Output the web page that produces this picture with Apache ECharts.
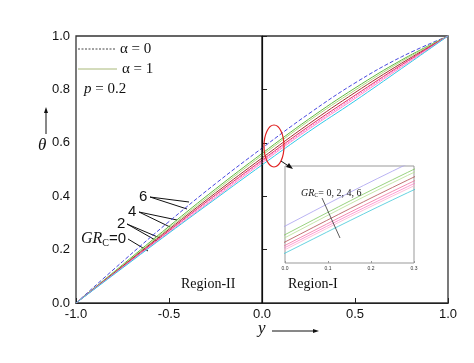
<!DOCTYPE html>
<html><head><meta charset="utf-8">
<script src="https://cdn.jsdelivr.net/npm/echarts@6/dist/echarts.min.js"></script>
<style>html,body{margin:0;padding:0;background:#fff}#c{width:474px;height:363px}</style>
</head><body><div id="c"></div>
<script>
const yPos = [-1, -0.75, -0.5, -0.25, 0, 0.25, 0.5, 0.75, 1];
const xTicks = ['-1.0','-0.5','0.0','0.5','1.0'];
const thetaBlueDash = [0, 0.155, 0.305, 0.447, 0.58, 0.708, 0.824, 0.922, 1];
const thetaGreen    = [0, 0.143, 0.287, 0.427, 0.560, 0.688, 0.805, 0.910, 1];
const thetaLtGreen  = [0, 0.140, 0.281, 0.420, 0.553, 0.681, 0.797, 0.905, 1];
const thetaBrown    = [0, 0.138, 0.276, 0.412, 0.543, 0.670, 0.788, 0.898, 1];
const thetaRed      = [0, 0.135, 0.271, 0.405, 0.535, 0.661, 0.778, 0.892, 1];
const thetaMagenta  = [0, 0.134, 0.268, 0.400, 0.530, 0.655, 0.772, 0.888, 1];
const thetaPink     = [0, 0.133, 0.265, 0.395, 0.525, 0.650, 0.766, 0.884, 1];
const thetaCyan     = [0, 0.131, 0.262, 0.390, 0.517, 0.641, 0.757, 0.878, 1];
const seriesDefs = [
  {d: thetaBlueDash, c: '#4848e0', t: 'dashed', ic: '#a8a0f0'},
  {d: thetaGreen, c: '#60b840', t: 'solid', ic: '#80c860'},
  {d: thetaLtGreen, c: '#b0d880', t: 'solid', ic: '#b8e090'},
  {d: thetaBrown, c: '#a03030', t: 'solid', ic: '#b05050'},
  {d: thetaRed, c: '#e83060', t: 'solid', ic: '#f070a0'},
  {d: thetaMagenta, c: '#ff30c0', t: 'dotted', ic: '#ff80c8'},
  {d: thetaPink, c: '#ff90c8', t: 'solid', ic: '#ffb0d0'},
  {d: thetaCyan, c: '#30c8e8', t: 'solid', ic: '#40c8d8'}
];
const chart = echarts.init(document.getElementById('c'));
const series = [];
seriesDefs.forEach(s => {
  const pts = yPos.map((x,i)=>[x, s.d[i]]);
  series.push({type:'line', xAxisIndex:0, yAxisIndex:0, data: pts, smooth:0.4, symbol:'none',
    lineStyle:{color:s.c, width:1, type:s.t}, z:3});
  series.push({type:'line', xAxisIndex:1, yAxisIndex:1, data: pts, smooth:0.4, symbol:'none',
    lineStyle:{color:s.ic, width:0.8}, clip:true, z:12});
});
series.push({type:'line', xAxisIndex:0, yAxisIndex:0, data:[[0,0],[0,1]], symbol:'none',
  lineStyle:{color:'#000', width:1.2}, z:4});
const sans = 'Liberation Sans, Arial, sans-serif';
const serif = 'Liberation Serif, Times New Roman, serif';
const option = {
  animation:false,
  grid:[
    {left:76, right:26, top:36, bottom:60, show:true, borderColor:'#333', borderWidth:1.3},
    {left:285, top:166, width:129, height:97, show:true, borderColor:'#999', borderWidth:1, backgroundColor:'#fff', z:10}
  ],
  xAxis:[
    {gridIndex:0, type:'value', min:-1, max:1, interval:0.5, position:'bottom',
     axisLine:{lineStyle:{color:'#222', width:1.2}}, axisTick:{inside:true, length:5, lineStyle:{color:'#222'}},
     axisLabel:{color:'#111', fontFamily:sans, fontSize:13, margin:5, formatter:(v)=>v.toFixed(1)}, splitLine:{show:false}},
    {gridIndex:1, type:'value', min:0, max:0.3, interval:0.1, z:11,
     axisLine:{show:false}, axisTick:{inside:true, length:2, lineStyle:{color:'#999'}},
     axisLabel:{fontSize:5, color:'#333', margin:3, formatter:(v)=>v.toFixed(1)}, splitLine:{show:false}}
  ],
  yAxis:[
    {gridIndex:0, type:'value', min:0, max:1, interval:0.2, position:'left',
     axisLine:{show:true, lineStyle:{color:'#222', width:1.2}}, axisTick:{show:true, inside:true, length:5, lineStyle:{color:'#222'}},
     axisLabel:{color:'#111', fontFamily:sans, fontSize:13, margin:6, formatter:(v)=>v.toFixed(1)}, splitLine:{show:false}},
    {gridIndex:1, type:'value', min:0.494, max:0.72, z:11,
     axisLine:{show:false}, axisTick:{show:false}, axisLabel:{show:false}, splitLine:{show:false}}
  ],
  series: series,
  graphic:[
    {type:'line', shape:{x1:78,y1:49,x2:116,y2:49}, style:{stroke:'#444', lineDash:[2,1.5], lineWidth:1}},
    {type:'text', x:120, y:49, style:{text:'α = 0', font:'15px '+serif, fill:'#111', verticalAlign:'middle'}},
    {type:'line', shape:{x1:78,y1:69,x2:117,y2:69}, style:{stroke:'#a8b878', lineWidth:1}},
    {type:'text', x:122, y:69, style:{text:'α = 1', font:'15px '+serif, fill:'#111', verticalAlign:'middle'}},
    {type:'text', x:84, y:89, style:{text:'{i|p} = 0.2', fill:'#111', verticalAlign:'middle', font:'15px '+serif,
      rich:{i:{fontFamily:serif, fontStyle:'italic', fontSize:15}}}},
    {type:'text', x:38, y:146, style:{text:'θ', font:'italic 17px '+serif, fill:'#111', verticalAlign:'middle'}},
    {type:'line', shape:{x1:46,y1:134,x2:46,y2:110}, style:{stroke:'#111', lineWidth:1}},
    {type:'polygon', shape:{points:[[46,107],[44,113],[48,113]]}, style:{fill:'#111'}},
    {type:'text', x:258, y:329, style:{text:'y', font:'italic 17px '+serif, fill:'#111', verticalAlign:'middle'}},
    {type:'line', shape:{x1:272,y1:331,x2:314,y2:331}, style:{stroke:'#111', lineWidth:1}},
    {type:'polygon', shape:{points:[[319,331],[313,329],[313,333]]}, style:{fill:'#111'}},
    {type:'text', x:181, y:284, style:{text:'Region-II', font:'14px '+serif, fill:'#111', verticalAlign:'middle'}},
    {type:'text', x:288, y:284, style:{text:'Region-I', font:'14px '+serif, fill:'#111', verticalAlign:'middle'}},
    {type:'text', x:139, y:197, style:{text:'6', font:'15px '+sans, fill:'#111', verticalAlign:'middle'}},
    {type:'text', x:128, y:212, style:{text:'4', font:'15px '+sans, fill:'#111', verticalAlign:'middle'}},
    {type:'text', x:117, y:224, style:{text:'2', font:'15px '+sans, fill:'#111', verticalAlign:'middle'}},
    {type:'text', x:81, y:239, style:{text:'{g|GR}{s|C}{n|=0}', verticalAlign:'middle',
      rich:{g:{fontFamily:serif, fontStyle:'italic', fontSize:16, fill:'#111'},
            s:{fontFamily:serif, fontSize:10, verticalAlign:'bottom', padding:[8,0,0,0], fill:'#111'},
            n:{fontFamily:sans, fontSize:15, fill:'#111'}}}},
    {type:'polyline', shape:{points:[[150,197],[189,202]]}, style:{stroke:'#111', lineWidth:1, fill:null}},
    {type:'polyline', shape:{points:[[150,197],[187,209]]}, style:{stroke:'#111', lineWidth:1, fill:null}},
    {type:'polyline', shape:{points:[[139,212],[177,220]]}, style:{stroke:'#111', lineWidth:1, fill:null}},
    {type:'polyline', shape:{points:[[139,212],[170,227]]}, style:{stroke:'#111', lineWidth:1, fill:null}},
    {type:'polyline', shape:{points:[[127,224],[160,238]]}, style:{stroke:'#111', lineWidth:1, fill:null}},
    {type:'polyline', shape:{points:[[127,224],[157,241]]}, style:{stroke:'#111', lineWidth:1, fill:null}},
    {type:'polyline', shape:{points:[[128,239],[148,251]]}, style:{stroke:'#111', lineWidth:1, fill:null}},
    {type:'ellipse', shape:{cx:274, cy:146, rx:10, ry:21}, style:{stroke:'#e02020', lineWidth:1.2, fill:null}, z:20},
    {type:'line', shape:{x1:281,y1:161,x2:290,y2:167}, style:{stroke:'#111', lineWidth:1}, z:20},
    {type:'polygon', shape:{points:[[293,169],[286,167],[289,163]]}, style:{fill:'#111'}, z:20},
    {type:'text', x:301, y:193, z:30, style:{text:'{g|GR}{s|C}{n|= 0, 2, 4, 6}', verticalAlign:'middle',
      rich:{g:{fontFamily:serif, fontStyle:'italic', fontSize:10, fill:'#222'},
            s:{fontFamily:serif, fontSize:6, padding:[5,0,0,0], fill:'#222'},
            n:{fontFamily:serif, fontSize:10, fill:'#222'}}}},
    {type:'line', z:30, shape:{x1:322,y1:198,x2:340,y2:238}, style:{stroke:'#333', lineWidth:0.8}}
  ]
};
chart.setOption(option);
</script></body></html>
